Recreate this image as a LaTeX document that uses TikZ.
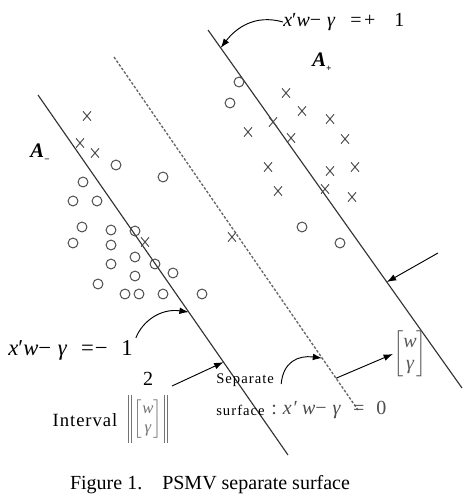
\documentclass[tikz,border=0pt]{standalone}
\usepackage{fontspec}
\setmainfont{Liberation Serif}
\usepackage{amsmath}
\usetikzlibrary{arrows.meta,shapes.misc,calc}
\begin{document}
\begin{tikzpicture}[x=0.75pt,y=-0.75pt,
  sline/.style={line width=0.85pt, black!80},
  dline/.style={line width=1pt, black!60, dash pattern=on 2pt off 1.3pt},
  ptc/.style={circle, draw=black!70, line width=0.75pt, minimum size=7.4pt, inner sep=0pt},
  ptx/.style={cross out, draw=black!70, line width=0.7pt, minimum width=5.2pt, minimum height=6.2pt, inner sep=0pt},
  arr/.style={-{Latex[length=7pt,width=5pt]}, line width=0.7pt},
  eq/.style={font=\fontsize{15}{17}\selectfont, inner sep=0pt},
  small/.style={font=\fontsize{11}{13}\selectfont\addfontfeature{LetterSpace=7}, inner sep=0pt},
  bars/.style={line width=0.6pt, black!55},
]
\useasboundingbox (0,0) rectangle (474,503);
% lines
\coordinate (L1) at (38,95);  \coordinate (L2) at (288,455);
\coordinate (D1) at (114,57); \coordinate (D2) at (358,410);
\coordinate (R1) at (208,30); \coordinate (R2) at (462,388);
\draw[sline] (L1) -- (L2);
\draw[dline] (D1) -- (D2);
\draw[sline] (R1) -- (R2);
% circles
\foreach \p [count=\i] in {(116,165),(83,182),(163,177),(73,201),(97,201),(82,227),(111,230),(135,231),(73,243),(111,245),(135,257),(111,264),(155,264),(173,273),(135,276),(98,284),(125,294),(139,294),(163,294),(202,294),(239,82),(230,103),(302,227),(340,243)}
  \node[ptc] (c\i) at \p {};
% crosses
\foreach \p [count=\i] in {(87,116),(80,143),(95,153),(145,242),(232,237),(286,93),(302,111),(330,119),(273,122),(248,132),(291,138),(345,139),(268,167),(330,171),(355,167),(278,191),(325,189),(352,197)}
  \node[ptx] (x\i) at \p {};
% labels
\node[eq, anchor=west] (eqp) at (283,22) {\textit{x}′\textit{w}−\hspace{0.3em}\textit{γ}\hspace{0.75em}=\hspace{0.12em}+\hspace{0.95em}1};
\node[eq, font=\fontsize{15.5}{17}\selectfont\bfseries\itshape] (Ap) at (322,62) {A\raisebox{-0.5ex}{\scriptsize +}};
\node[eq, font=\fontsize{15.5}{17}\selectfont\bfseries\itshape] (Am) at (40,153) {A\raisebox{-0.5ex}{\scriptsize −}};
\node[eq, anchor=west, font=\fontsize{17}{19}\selectfont] (eqm) at (8,350) {\textit{x}′\textit{w}−\hspace{0.3em}\textit{γ}\hspace{0.6em}=\hspace{0.05em}−\hspace{0.6em}1};
\node[eq, font=\fontsize{15}{17}\selectfont] (two) at (148,379) {2};
\node[eq, font=\fontsize{12.5}{14}\selectfont, text=black!55] (nrm) at (148,419) {$\begin{bmatrix}\textit{w}\\ \textit{γ}\end{bmatrix}$};
\draw[bars] ($(nrm.north west)+(-2,-5)$) -- ($(nrm.south west)+(-2,5)$);
\draw[bars] ($(nrm.north west)+(-5,-5)$) -- ($(nrm.south west)+(-5,5)$);
\draw[bars] ($(nrm.north east)+(2,-5)$) -- ($(nrm.south east)+(2,5)$);
\draw[bars] ($(nrm.north east)+(5,-5)$) -- ($(nrm.south east)+(5,5)$);
\node[eq, font=\fontsize{14}{16}\selectfont\addfontfeature{LetterSpace=5}] (intv) at (85,420) {Interval};
\node[small, anchor=west] (sep) at (216,380) {Separate};
\node[small, anchor=west] (surf) at (216,410) {surface};
\node[eq, anchor=west, text=black!70] (eq0) at (271,410) {:\hspace{0.3em}\textit{x}\hspace{0.1em}′\hspace{0.2em}\textit{w}−\hspace{0.3em}\textit{γ}\hspace{0.6em}=\hspace{0.6em}0};
\node[eq, text=black!65] (wg) at (410,354) {$\begin{bmatrix}\textit{w}\\ \textit{γ}\end{bmatrix}$};
\node[font=\fontsize{15}{17}\selectfont, inner sep=0pt] (cap) at (210,485) {Figure 1.\quad PSMV separate surface};
% arrow targets
\coordinate (tR1) at ($(R1)!0.05!(R2)$);
\coordinate (tR2) at ($(R1)!0.704!(R2)$);
\coordinate (tL1) at ($(L1)!0.603!(L2)$);
\coordinate (tL2) at ($(L1)!0.742!(L2)$);
\coordinate (tD1) at ($(D1)!0.853!(D2)$);
\coordinate (sD2) at ($(D1)!0.91!(D2)$);
\coordinate (oR) at (438,253);
\coordinate (oI) at (172,386);
% arrows
\draw[arr] (eqp.west) .. controls (255,14) and (236,28) .. (tR1);
\draw[arr] (oR) -- (tR2);
\draw[arr] (eqm.north east) ++(3,-2) .. controls (142,322) and (160,308) .. (tL1);
\draw[arr] (oI) -- (tL2);
\draw[arr] (sep.east) ++(7,4) .. controls (283,362) and (298,355) .. (tD1);
\draw[arr] (sD2) -- (wg.west);
\end{tikzpicture}
\end{document}
